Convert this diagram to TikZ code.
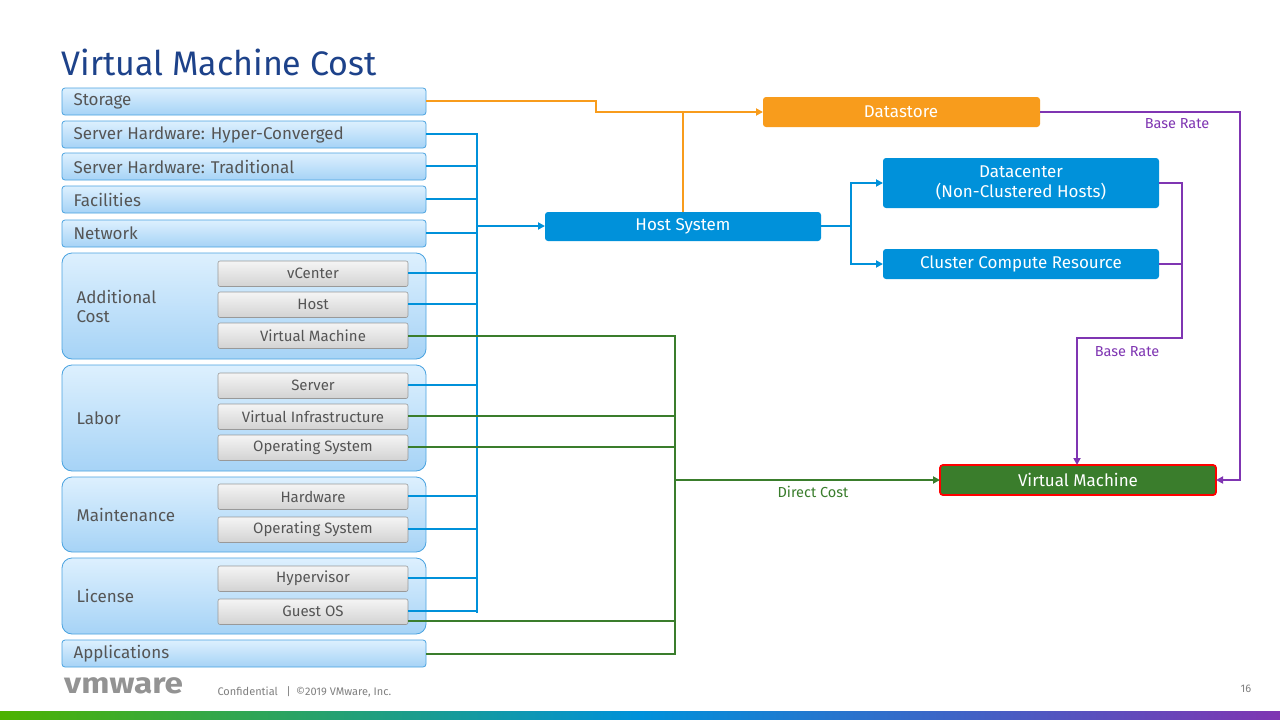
\documentclass[tikz,border=0pt]{standalone}
\usepackage{fontspec}
\setmainfont{Fira Sans}
\usetikzlibrary{arrows.meta}
\definecolor{ttl}{HTML}{1D428A}
\definecolor{lbb}{HTML}{4AA3E0}
\definecolor{lbt}{HTML}{DDF0FE}
\definecolor{lbm}{HTML}{A6D3F6}
\definecolor{hb}{HTML}{0091DA}
\definecolor{og}{HTML}{F89C1C}
\definecolor{pu}{HTML}{7F35B2}
\definecolor{gr}{HTML}{3A7D2C}
\definecolor{tx}{HTML}{555555}
\begin{document}
\begin{tikzpicture}[x=1pt,y=-1pt,
 item/.style={draw=lbb,rounded corners=3pt,top color=lbt,bottom color=lbm,line width=0.8pt},
 sub/.style={draw=gray!80,rounded corners=2pt,top color=gray!8,bottom color=gray!35,line width=0.6pt},
 lt/.style={font=\fontsize{17}{19}\selectfont,text=tx},
 st/.style={font=\fontsize{15}{17}\selectfont,text=tx},
 wt/.style={font=\fontsize{17}{20}\selectfont,text=white,align=center},
 lab/.style={font=\fontsize{14.5}{16}\selectfont},
 bl/.style={draw=hb,line width=2.2pt},
 gl/.style={draw=gr,line width=2.2pt},
 ol/.style={draw=og,line width=2.2pt},
 pl/.style={draw=pu,line width=2.2pt},
 ar/.style={-{Triangle[length=7pt,width=7pt]}}]
\useasboundingbox (0,0) rectangle (1280,720);
\fill[white] (0,0) rectangle (1280,720);
\node[anchor=west,text=ttl,font=\fontsize{34}{38}\fontseries{l}\selectfont] (title) at (58,62) {Virtual Machine Cost};
% left items
\foreach \n/\t/\a/\b in {sto/Storage/88/115,hc/{Server Hardware: Hyper-Converged}/121/148,tr/{Server Hardware: Traditional}/153/180,fa/Facilities/186/213,ne/Network/220/247,ap/Applications/640/667}{
 \draw[item] (62,\a) rectangle (426,\b);
 \node[lt,anchor=west] (\n) at (70,{(\a+\b)/2}) {\t};}
\foreach \n/\t/\a/\b in {ac/{Additional\\Cost}/253/359,la/Labor/365/471,ma/Maintenance/477/552,li/License/558/634}{
 \draw[item,rounded corners=10pt] (62,\a) rectangle (426,\b);
 \node[lt,anchor=west,align=left] (\n) at (73,{(\a+\b)/2}) {\t};}
\foreach \n/\t/\a in {vc/vCenter/261,ho/Host/292,vm/Virtual Machine/323,se/Server/373,vi/Virtual Infrastructure/404,os1/Operating System/435,hw/Hardware/484,os2/Operating System/517,hy/Hypervisor/566,go/Guest OS/599}{
 \draw[sub] (218,\a) rectangle (408,\a+25.5);
 \node[st] (\n) at (313,\a+12.5) {\t};}
% right boxes
\draw[fill=og,rounded corners=3pt,draw=none] (763,97) rectangle (1040,127);
\node[wt] (ds) at (901,112) {Datastore};
\draw[fill=hb,rounded corners=3pt,draw=none] (545,212) rectangle (821,241);
\node[wt] (hs) at (683,226) {Host System};
\draw[fill=hb,rounded corners=3pt,draw=none] (883,158) rectangle (1159,208);
\node[wt] (dc) at (1021,183) {Datacenter\\(Non-Clustered Hosts)};
\draw[fill=hb,rounded corners=3pt,draw=none] (883,249) rectangle (1159,279);
\node[wt] (cc) at (1021,264) {Cluster Compute Resource};
\draw[fill=gr,rounded corners=3pt,draw=red,line width=1.8pt] (940,465) rectangle (1216,495);
\node[wt] (vmr) at (1078,480) {Virtual Machine};
% blue
\draw[bl] (477,133) -- (477,613);
\foreach \y in {134,166,199,233} \draw[bl] (426,\y) -- (477,\y);
\foreach \y in {273,304,385,496,529,578,611} \draw[bl] (408,\y) -- (477,\y);
\draw[bl,ar] (477,226) -- (545,226);
\draw[bl] (821,226) -- (851,226);
\draw[bl] (851,182) -- (851,265);
\draw[bl,ar] (851,183) -- (883,183);
\draw[bl,ar] (851,264) -- (883,264);
% orange
\draw[ol,ar] (426,101) -- (596,101) -- (596,112) -- (763,112);
\draw[ol] (683,212) -- (683,112);
% green
\draw[gl] (675,335) -- (675,655);
\foreach \y in {336,416,447,621} \draw[gl] (408,\y) -- (675,\y);
\draw[gl] (426,654) -- (675,654);
\draw[gl,ar] (675,480) -- (940,480);
\node[text=gr,lab] (dcl) at (813,492) {Direct Cost};
% purple
\draw[pl,ar] (1040,112) -- (1240,112) -- (1240,480) -- (1216,480);
\node[text=pu,lab] (br1) at (1177,124) {Base Rate};
\draw[pl] (1159,183) -- (1182,183) -- (1182,338) -- (1077,338);
\draw[pl,ar] (1077,337) -- (1077,465);
\draw[pl] (1159,264) -- (1182,264);
\node[text=pu,lab] (br2) at (1127,352) {Base Rate};
% footer
\node[anchor=west,text=gray!85,font=\fontsize{29}{31}\bfseries\selectfont,inner sep=0pt,xscale=1.15] (logo) at (64,686) {vmware};
\node[anchor=west,text=gray,font=\fontsize{11}{12}\selectfont] (conf) at (214,692) {Confidential \enspace|\enspace ©2019 VMware, Inc.};
\node[text=gray,font=\fontsize{11}{12}\selectfont] (pg) at (1246,689) {16};
\shade[left color=green!50!black!60!lime, right color=hb] (0,711) rectangle (640,720);
\shade[left color=hb, right color=pu] (640,711) rectangle (1280,720);
\end{tikzpicture}
\end{document}
